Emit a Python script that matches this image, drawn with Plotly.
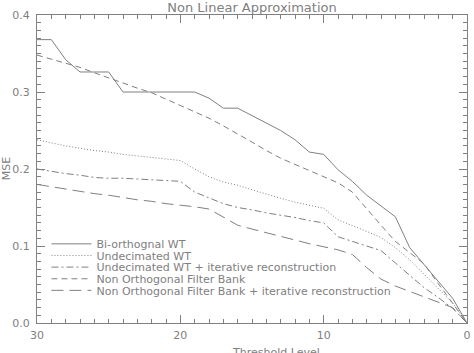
import plotly.graph_objects as go

# ---- data (threshold 30 -> 0) ----
thresholds = list(range(30, -1, -1))
bi_orthogonal = [0.368, 0.368, 0.342, 0.326, 0.326, 0.326, 0.300, 0.300, 0.300, 0.300, 0.300,
                 0.300, 0.292, 0.279, 0.279, 0.269, 0.260, 0.250, 0.238, 0.222, 0.219,
                 0.199, 0.184, 0.166, 0.152, 0.138, 0.098, 0.076, 0.055, 0.032, 0.0]
undecimated = [0.238, 0.234, 0.230, 0.227, 0.224, 0.222, 0.219, 0.217, 0.215, 0.213, 0.211,
               0.200, 0.190, 0.183, 0.179, 0.173, 0.167, 0.162, 0.157, 0.153, 0.149,
               0.134, 0.127, 0.119, 0.111, 0.098, 0.082, 0.063, 0.044, 0.026, 0.0]
undecimated_iter = [0.200, 0.197, 0.194, 0.192, 0.189, 0.188, 0.188, 0.187, 0.186, 0.185, 0.184,
                    0.170, 0.162, 0.155, 0.150, 0.147, 0.143, 0.140, 0.137, 0.133, 0.130,
                    0.112, 0.106, 0.100, 0.094, 0.078, 0.062, 0.046, 0.033, 0.019, 0.0]
non_orth_fb = [0.348, 0.343, 0.338, 0.332, 0.325, 0.318, 0.311, 0.305, 0.299, 0.291, 0.283,
               0.275, 0.266, 0.256, 0.246, 0.235, 0.224, 0.214, 0.206, 0.198, 0.190,
               0.182, 0.170, 0.148, 0.127, 0.106, 0.091, 0.077, 0.051, 0.025, 0.0]
non_orth_fb_iter = [0.180, 0.177, 0.174, 0.171, 0.168, 0.166, 0.163, 0.160, 0.158, 0.155, 0.153,
                    0.151, 0.148, 0.138, 0.127, 0.122, 0.117, 0.112, 0.107, 0.103, 0.099,
                    0.095, 0.089, 0.072, 0.057, 0.048, 0.041, 0.034, 0.027, 0.020, 0.0]

series_names = ["Bi-orthognal WT", "Undecimated WT", "Undecimated WT + iterative reconstruction",
                "Non Orthogonal Filter Bank", "Non Orthogonal Filter Bank + iterative reconstruction"]
series_values = [bi_orthogonal, undecimated, undecimated_iter, non_orth_fb, non_orth_fb_iter]
x_tick_vals = [30, 20, 10, 0]
x_tick_text = ["30", "20", "10", "0"]
y_tick_vals = [0.0, 0.1, 0.2, 0.3, 0.4]
y_tick_text = ["0.0", "0.1", "0.2", "0.3", "0.4"]

# ---- style ----
GREY = "#808080"
FONT = "DejaVu Sans"
dashes = ["solid", "1px,2px", "7px,3px,2px,3px", "6px,4px", "12px,6px"]
legend_rows = [0.257, 0.219, 0.1815, 0.1436, 0.106]

fig = go.Figure()
for i, (name, vals) in enumerate(zip(series_names, series_values)):
    lg = "legend" if i == 0 else f"legend{i + 1}"
    fig.add_trace(go.Scatter(
        x=thresholds, y=vals, mode="lines", name=name,
        line=dict(color=GREY, width=1, dash=dashes[i]),
        legend=lg, showlegend=True, hoverinfo="skip",
    ))

layout_legends = {}
for i, yy in enumerate(legend_rows):
    key = "legend" if i == 0 else f"legend{i + 1}"
    layout_legends[key] = dict(
        x=0.022, y=yy, xanchor="left", yanchor="middle",
        bgcolor="rgba(0,0,0,0)", borderwidth=0, itemwidth=40,
        font=dict(family=FONT, size=11, color=GREY),
    )

axis_common = dict(
    showline=True, linecolor=GREY, linewidth=1, mirror="ticks",
    ticks="inside", ticklen=8, tickcolor=GREY, tickwidth=1,
    showgrid=False, zeroline=False, ticklabeloverflow="allow",
    tickfont=dict(family=FONT, size=11, color=GREY),
)

fig.update_layout(
    width=474, height=353,
    margin=dict(l=37, r=3, t=15, b=30),
    paper_bgcolor="white", plot_bgcolor="white",
    title=dict(text="Non Linear Approximation", x=0.5, xref="paper", xanchor="center",
               y=1 - 7 / 353, yref="container", yanchor="middle",
               font=dict(family=FONT, size=13, color=GREY)),
    xaxis=dict(range=[30, 0], tickvals=x_tick_vals, ticktext=x_tick_text,
               minor=dict(dtick=1, ticks="inside", ticklen=4, tickcolor=GREY, showgrid=False),
               ticklabelstandoff=2, **axis_common),
    yaxis=dict(range=[0, 0.4], tickvals=y_tick_vals, ticktext=y_tick_text,
               minor=dict(dtick=0.01, ticks="inside", ticklen=4, tickcolor=GREY, showgrid=False),
               ticklabelstandoff=4, **axis_common),
    annotations=[
        dict(text="Threshold Level", xref="paper", yref="paper", x=(278 - 37) / 434, y=-0.068,
             xanchor="center", yanchor="top", showarrow=False,
             font=dict(family=FONT, size=11, color=GREY)),
        dict(text="MSE", xref="paper", yref="paper", x=(6 - 37) / 434, y=0.5,
             xanchor="center", yanchor="middle", textangle=-90, showarrow=False,
             font=dict(family=FONT, size=11, color=GREY)),
    ],
    **layout_legends,
)

fig.write_html("out.html", config={"displayModeBar": False})
